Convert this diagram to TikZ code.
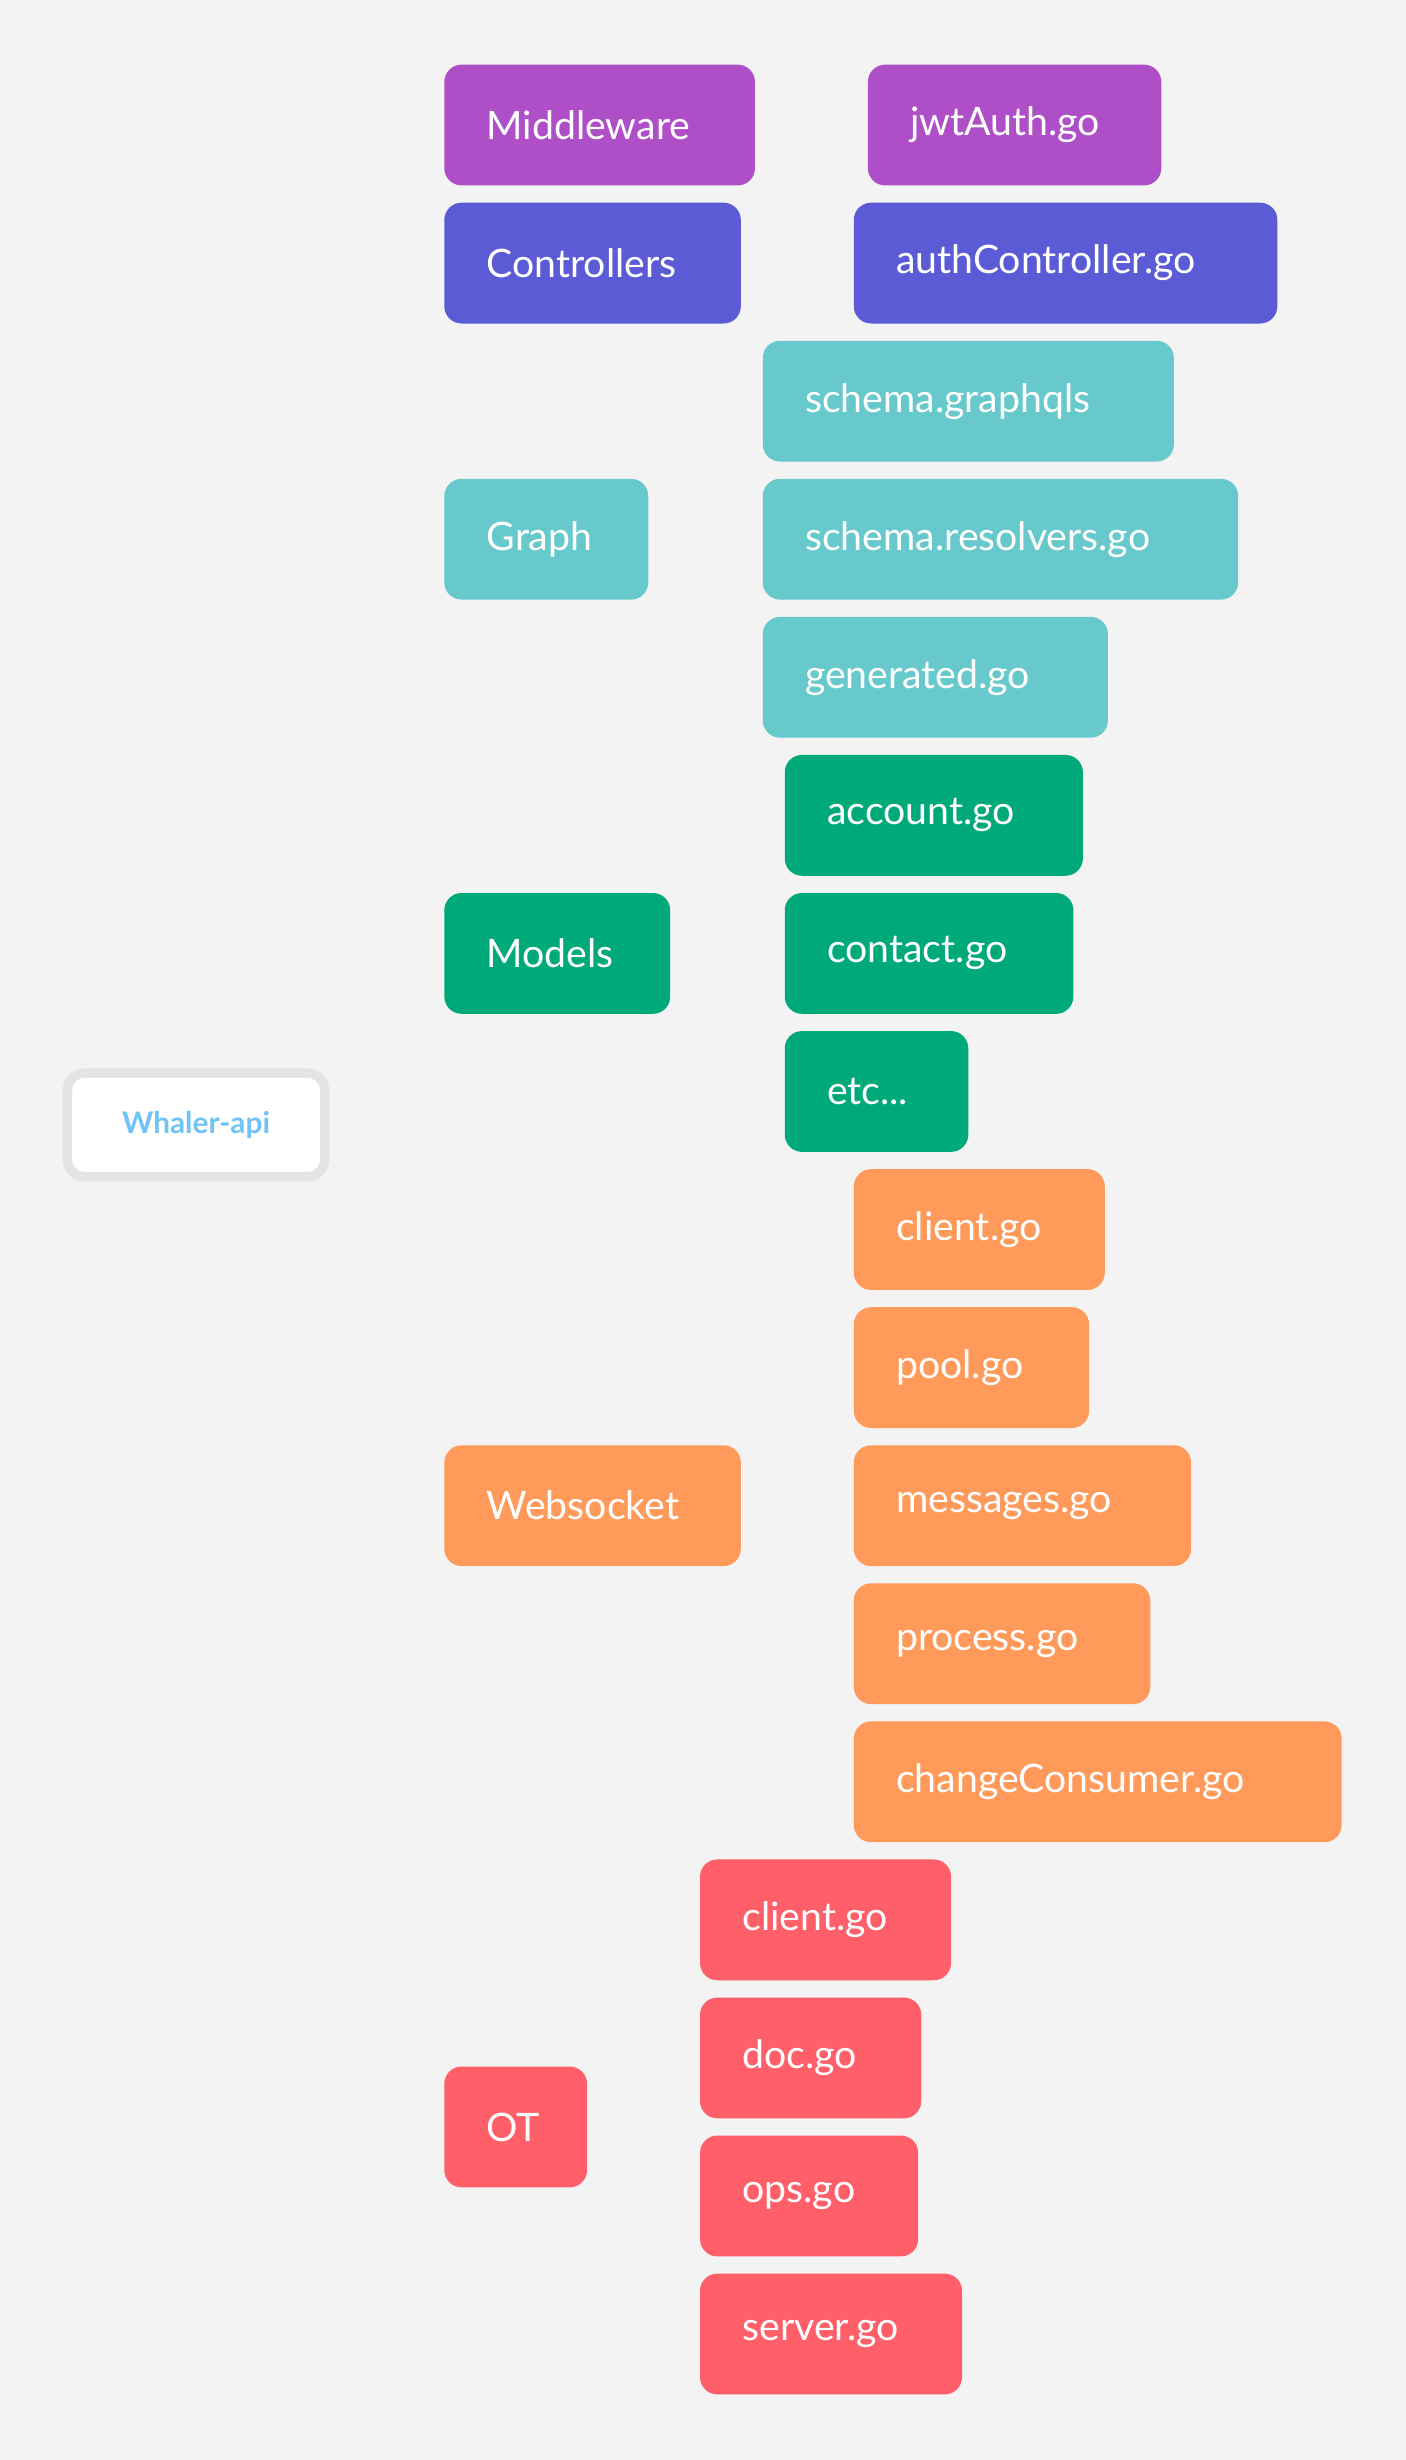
\documentclass[tikz,border=0pt]{standalone}
\usepackage{fontspec}
\setmainfont{Lato}
\usetikzlibrary{backgrounds}
\definecolor{bg}{HTML}{F3F3F3}
\definecolor{cpur}{HTML}{AE4FC8}
\definecolor{cblu}{HTML}{5B5BD6}
\definecolor{ctea}{HTML}{67C9CB}
\definecolor{cgrn}{HTML}{00A97A}
\definecolor{cora}{HTML}{FF9A5A}
\definecolor{cred}{HTML}{FF5F68}
\definecolor{rootb}{HTML}{E4E4E4}
\definecolor{roott}{HTML}{6FC4F5}
\tikzset{
 x=1pt,y=-1pt,
 bx/.style={anchor=north west,fill=#1,rounded corners=11pt,minimum height=77pt,inner xsep=27pt,inner ysep=0pt,text=white,font=\fontsize{25}{28}\selectfont,align=left},
 ln/.style={draw=#1,line width=5pt},
}
\newcommand{\cc}[3]{\draw[ln=#3] (#1.east) .. controls ($(#1.east)!0.5!(#2.west|-#1.east)$) and ($(#1.east|-#2.west)!0.5!(#2.west)$) .. (#2.west);}
\usetikzlibrary{calc}
\begin{document}
\begin{tikzpicture}
\fill[bg] (0,0) rectangle (896,1568);
\node[draw=rootb,line width=6pt,fill=white,rounded corners=11pt,minimum width=164pt,minimum height=66pt,text=roott,font=\bfseries\fontsize{19}{22}\selectfont] (root) at (125,717) {Whaler-api};
\node[bx=cpur,text width=144pt] (mw) at (283,41) {Middleware};
\node[bx=cpur,text width=133pt] (jwt) at (553,41) {jwtAuth.go};
\node[bx=cblu,text width=135pt] (ct) at (283,129) {Controllers};
\node[bx=cblu,text width=216pt] (ac) at (544,129) {authController.go};
\node[bx=ctea,text width=76pt] (gr) at (283,305) {Graph};
\node[bx=ctea,text width=208pt] (sg) at (486,217) {schema.graphqls};
\node[bx=ctea,text width=249pt] (sr) at (486,305) {schema.resolvers.go};
\node[bx=ctea,text width=166pt] (gen) at (486,393) {generated.go};
\node[bx=cgrn,text width=90pt] (md) at (283,569) {Models};
\node[bx=cgrn,text width=136pt] (acc) at (500,481) {account.go};
\node[bx=cgrn,text width=130pt] (con) at (500,569) {contact.go};
\node[bx=cgrn,text width=63pt] (etc) at (500,657) {etc...};
\node[bx=cora,text width=135pt] (ws) at (283,921) {Websocket};
\node[bx=cora,text width=106pt] (wc) at (544,745) {client.go};
\node[bx=cora,text width=96pt] (wp) at (544,833) {pool.go};
\node[bx=cora,text width=161pt] (wm) at (544,921) {messages.go};
\node[bx=cora,text width=135pt] (wr) at (544,1009) {process.go};
\node[bx=cora,text width=257pt] (wx) at (544,1097) {changeConsumer.go};
\node[bx=cred,text width=37pt] (ot) at (283,1317) {OT};
\node[bx=cred,text width=106pt] (oc) at (446,1185) {client.go};
\node[bx=cred,text width=87pt] (od) at (446,1273) {doc.go};
\node[bx=cred,text width=85pt] (oo) at (446,1361) {ops.go};
\node[bx=cred,text width=113pt] (os) at (446,1449) {server.go};
\begin{scope}[on background layer]
\fill[bg] (0,0) rectangle (896,1568);
\coordinate (r1) at (150,690); \coordinate (r2) at (153,690); \coordinate (r3) at (158,690);
\coordinate (r4) at (185,690); \coordinate (r5) at (165,745); \coordinate (r6) at (150,745);
\draw[ln=cpur] (r1) .. controls (205,300) and (220,79) .. (mw.west);
\draw[ln=cblu] (r2) .. controls (205,380) and (220,167) .. (ct.west);
\draw[ln=ctea] (r3) .. controls (210,500) and (230,343) .. (gr.west);
\draw[ln=cgrn] (r4) .. controls (225,640) and (245,607) .. (md.west);
\draw[ln=cora] (r5) .. controls (220,850) and (240,959) .. (ws.west);
\draw[ln=cred] (r6) .. controls (215,1000) and (220,1355) .. (ot.west);
\draw[ln=cpur] (mw.east) -- (jwt.west);
\draw[ln=cblu] (ct.east) -- (ac.west);
\cc{gr}{sg}{ctea}\cc{gr}{sr}{ctea}\cc{gr}{gen}{ctea}
\cc{md}{acc}{cgrn}\cc{md}{con}{cgrn}\cc{md}{etc}{cgrn}
\cc{ws}{wc}{cora}\cc{ws}{wp}{cora}\cc{ws}{wm}{cora}\cc{ws}{wr}{cora}\cc{ws}{wx}{cora}
\cc{ot}{oc}{cred}\cc{ot}{od}{cred}\cc{ot}{oo}{cred}\cc{ot}{os}{cred}
\end{scope}
\end{tikzpicture}
\end{document}
